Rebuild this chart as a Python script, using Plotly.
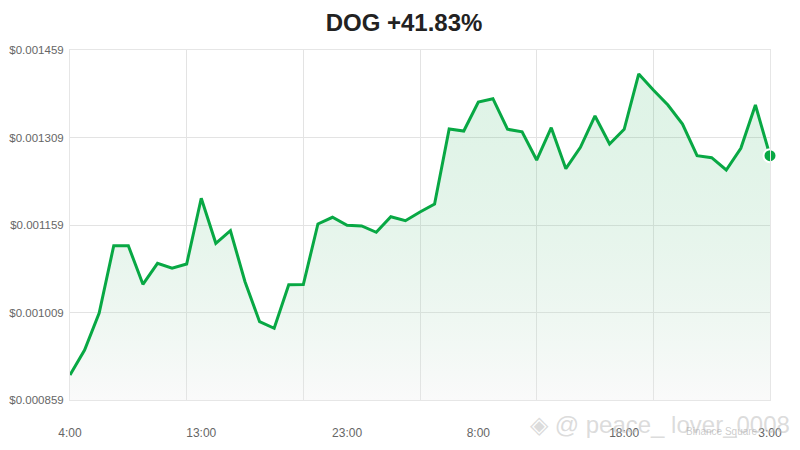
import plotly.graph_objects as go

# hourly DOG price, 4:00 -> 3:00 (49 points)
hours = list(range(49))
prices = [0.0009019, 0.0009447, 0.0010081, 0.0011235, 0.0011235, 0.0010573, 0.0010933,
          0.0010848, 0.0010921, 0.0012048, 0.0011276, 0.0011492, 0.0010618, 0.0009932,
          0.0009819, 0.0010567, 0.0010570, 0.0011607, 0.0011722, 0.0011585, 0.0011573,
          0.0011465, 0.0011732, 0.0011664, 0.0011813, 0.0011950, 0.0013236, 0.0013201,
          0.0013699, 0.0013755, 0.0013231, 0.0013189, 0.0012704, 0.0013258, 0.0012555,
          0.0012922, 0.0013459, 0.0012979, 0.0013231, 0.0014179, 0.0013904, 0.0013647,
          0.0013321, 0.0012778, 0.0012744, 0.0012533, 0.0012905, 0.0013647, 0.0012778]

tick_pos = [0, 9, 19, 28, 38, 48]
tick_text = ["4:00", "13:00", "23:00", "8:00", "18:00", "3:00"]
grid_pos = [0, 8, 16, 24, 32, 40, 48]
y_ticks = [0.000859, 0.001009, 0.001159, 0.001309, 0.001459]
y_text = ["$%.6f" % v for v in y_ticks]

green = "#08a844"
ymin, ymax = y_ticks[0], y_ticks[-1]

fig = go.Figure()
fig.add_trace(go.Scatter(
    x=hours, y=prices, mode="lines",
    line=dict(color=green, width=3),
    fill="tozeroy",
    fillgradient=dict(type="vertical", start=ymin, stop=ymax,
                      colorscale=[[0, "rgba(235,235,235,0.25)"],
                                  [1, "rgba(8,168,68,0.13)"]]),
    hoverinfo="skip", showlegend=False,
))
fig.add_trace(go.Scatter(
    x=[hours[-1]], y=[prices[-1]], mode="markers", xaxis="x2",
    marker=dict(color=green, size=13, line=dict(color="white", width=2)),
    cliponaxis=False, showlegend=False,
))

axis_font = dict(family="Liberation Sans, Arial", size=12, color="#666666")
# page body adds an 8px offset, so the figure is a bit smaller than the window
fig.update_layout(
    width=792, height=442,
    paper_bgcolor="white", plot_bgcolor="white",
    margin=dict(l=62, r=30, t=42, b=50),
    title=dict(text="<b>DOG +41.83%</b>", x=0.5, xanchor="center", y=0.966, yanchor="middle",
               font=dict(family="Liberation Sans, Arial", size=24, color="#222222")),
    xaxis=dict(range=[0, 48], tickvals=grid_pos, showticklabels=False,
               showgrid=True, gridcolor="#e3e3e3", gridwidth=1, zeroline=False,
               showline=True, linecolor="#e6e6e6", mirror=True, ticks="", automargin=False),
    xaxis2=dict(range=[0, 48], overlaying="x", side="bottom", anchor="y",
                tickvals=tick_pos, ticktext=tick_text, showgrid=False, zeroline=False,
                tickfont=axis_font, ticks="", ticklabelstandoff=24, automargin=False),
    yaxis=dict(range=[ymin, ymax], tickvals=y_ticks, ticktext=y_text,
               showgrid=True, gridcolor="#e3e3e3", zeroline=False,
               showline=True, linecolor="#e6e6e6", mirror=True, automargin=False,
               tickfont=dict(family="Liberation Sans, Arial", size=11.5, color="#666666"),
               ticks="", ticklabelstandoff=3),
    annotations=[
        dict(text="\u25c8 @ peace_ lover_0008", xref="paper", yref="paper",
             x=1.031, y=-0.071, xanchor="right", yanchor="middle", showarrow=False,
             font=dict(family="Liberation Sans, Arial", size=24, color="rgba(190,190,190,0.55)")),
        dict(text="Binance Square", xref="paper", yref="paper",
             x=0.986, y=-0.091, xanchor="right", yanchor="middle", showarrow=False,
             font=dict(family="Liberation Sans, Arial", size=10, color="rgba(170,170,170,0.6)")),
    ],
)

fig.write_html("out.html")
